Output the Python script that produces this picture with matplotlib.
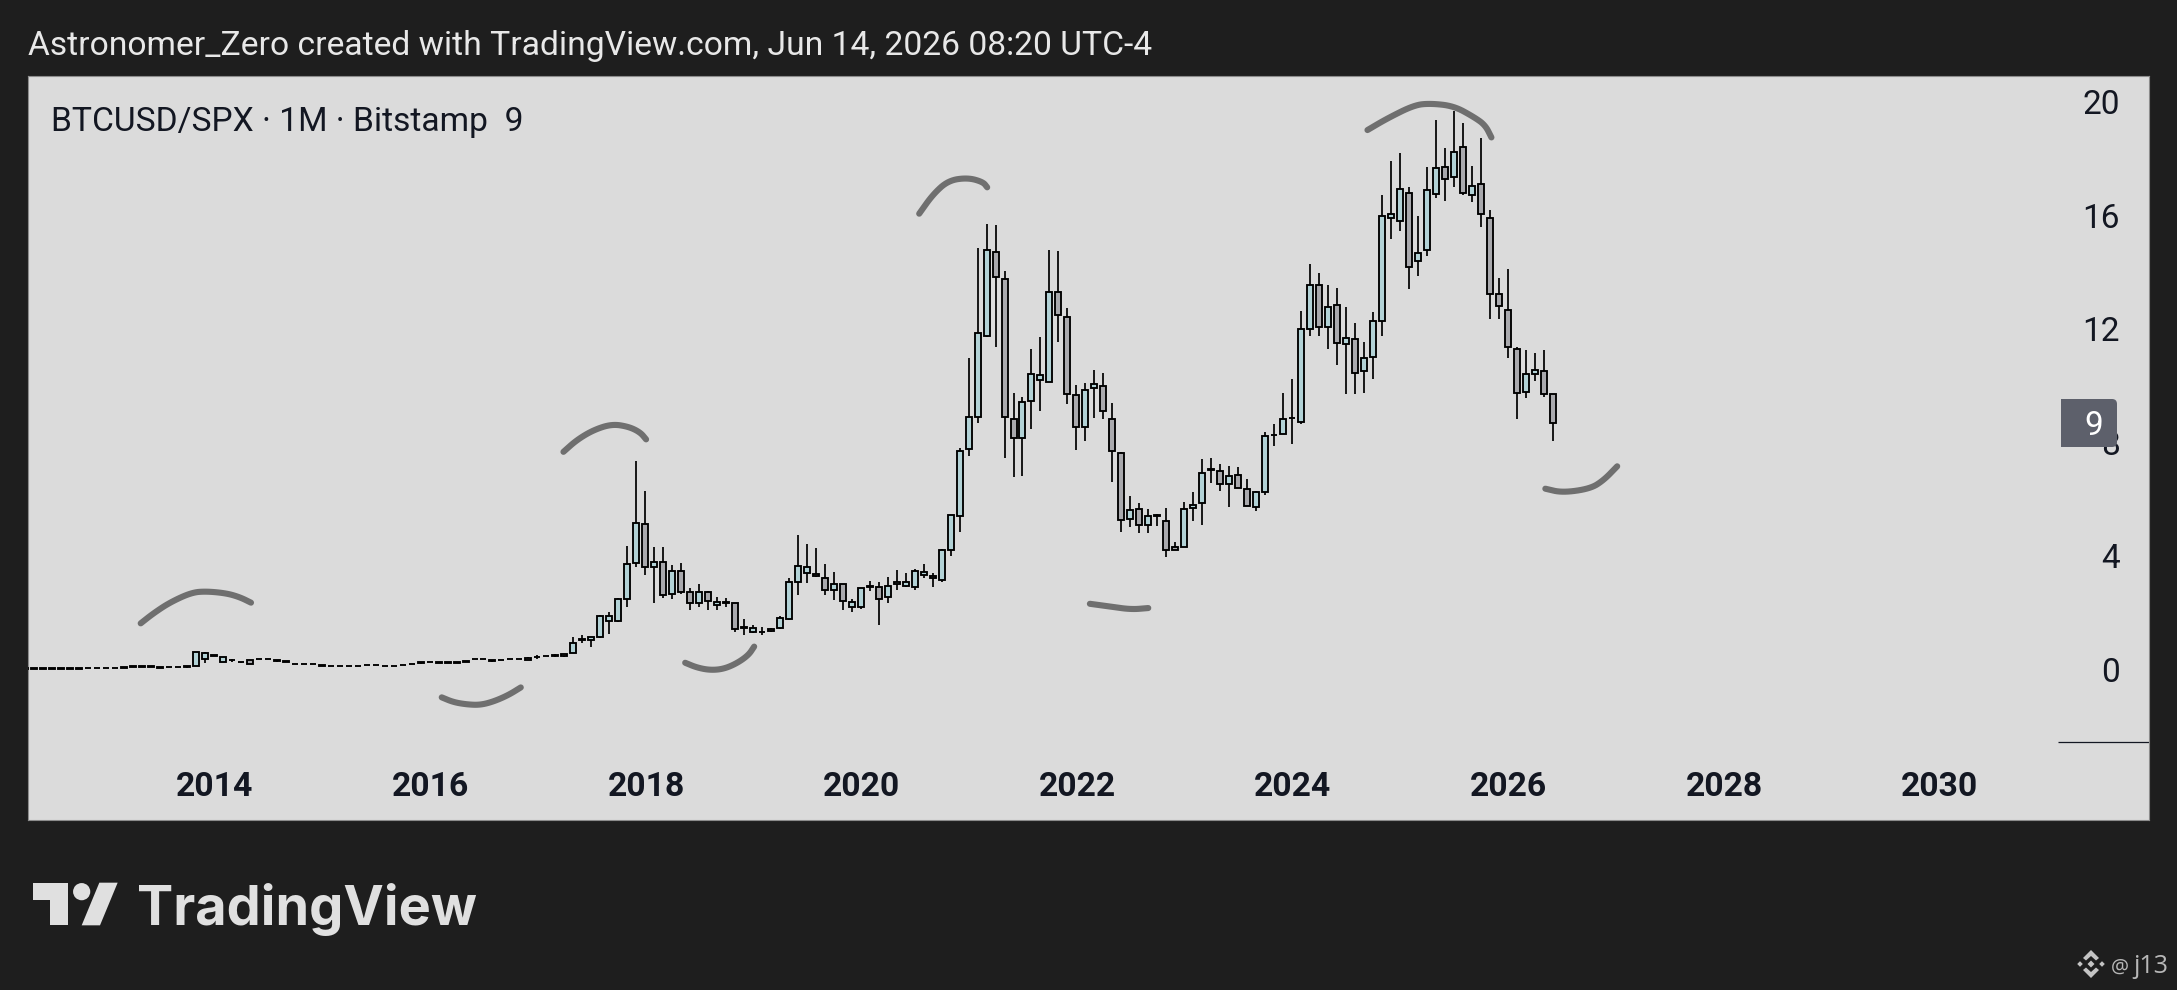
import numpy as np
import matplotlib
matplotlib.use("Agg")
import matplotlib.pyplot as plt
from matplotlib.patches import Polygon, Circle, PathPatch
from matplotlib.path import Path
from matplotlib.transforms import Affine2D, ScaledTranslation

# ---- data: monthly BTCUSD/SPX candles, Aug 2012 .. Jun 2026 ----
first_month = -21   # months relative to Jan 2014
opens = [.01,.01,.01,.01,.01,.01,.01,.02,.02,.02,
 .02,.05,.08,.08,.08,.05,.07,.07,.08,.11,
 .35,.49,.26,.31,.25,.31,.34,.34,.29,.26,
 .18,.18,.18,.12,.11,.11,.11,.11,.13,.13,
 .11,.11,.14,.18,.22,.24,.22,.22,.22,.26,
 .34,.34,.29,.32,.34,.34,.40,.42,.46,.47,
 .53,.55,1.03,1.03,1.13,1.69,1.70,2.46,3.73,5.13,
 3.61,3.79,2.63,3.47,2.73,2.34,2.72,2.26,2.33,2.32,
 1.45,1.29,1.30,1.42,1.45,1.75,3.07,3.37,3.36,3.21,
 2.79,2.99,2.20,2.20,2.89,2.89,2.55,2.99,2.93,2.90,
 3.32,3.29,3.14,4.20,5.40,7.76,8.88,11.75,14.72,13.77,
 8.83,8.14,9.44,10.18,10.14,13.31,12.40,9.68,8.52,9.90,
 9.99,8.83,7.63,5.29,5.64,5.08,5.39,5.23,4.29,4.30,
 5.68,5.87,7.02,6.98,6.53,6.84,6.35,5.73,6.26,8.25,
 8.28,8.85,8.72,11.99,13.56,12.05,12.85,11.45,11.65,10.50,
 10.99,12.29,15.91,15.80,16.80,14.38,14.77,16.74,17.71,17.34,
 18.42,16.71,17.12,15.92,13.24,12.68,11.30,9.76,10.39,10.52,9.69]
highs = [.01,.01,.01,.01,.01,.01,.01,.02,.02,.02,
 .02,.05,.09,.08,.08,.05,.07,.07,.08,.60,
 .59,.50,.43,.36,.26,.32,.34,.34,.29,.26,
 .18,.18,.18,.12,.11,.11,.11,.11,.13,.13,
 .11,.11,.14,.18,.22,.24,.22,.22,.22,.26,
 .34,.34,.29,.32,.34,.34,.41,.49,.46,.53,
 .54,1.12,1.20,1.13,1.90,2.02,2.50,4.34,7.34,6.28,
 4.32,4.32,3.66,3.73,2.85,3.00,2.74,2.55,2.49,2.34,
 1.76,1.55,1.47,1.43,1.88,3.20,4.73,4.41,4.27,3.70,
 3.41,2.99,2.47,2.87,3.10,3.08,3.23,3.49,3.37,3.52,
 3.70,3.40,4.23,5.44,7.78,10.96,14.84,15.70,15.66,14.05,
 9.72,9.61,11.29,11.72,14.78,14.76,12.72,10.02,10.08,10.55,
 10.43,9.37,7.64,6.10,5.84,5.63,5.46,5.67,4.49,5.90,
 6.23,7.40,7.43,7.22,7.17,7.11,6.69,6.29,8.37,8.64,
 9.72,10.23,12.63,14.27,13.96,13.53,13.43,12.76,12.19,11.53,
 12.58,16.71,17.92,18.19,17.01,15.98,17.70,19.37,18.37,19.68,
 19.27,17.74,18.72,16.19,13.78,14.11,11.37,11.25,11.13,11.25,9.71]
lows = [.01,.01,.01,.01,.01,.01,.01,.02,.02,.02,
 .02,.05,.06,.08,.08,.05,.07,.07,.05,.10,
 .22,.46,.25,.26,.22,.18,.34,.34,.25,.26,
 .18,.18,.18,.09,.11,.11,.11,.11,.13,.13,
 .11,.11,.14,.18,.18,.24,.22,.22,.22,.26,
 .34,.34,.25,.32,.34,.34,.30,.37,.46,.43,
 .44,.55,.90,.76,1.08,1.22,1.65,2.18,3.61,3.33,
 2.32,2.50,2.48,2.63,2.08,2.20,2.08,2.08,2.20,1.31,
 1.20,1.26,1.20,1.32,1.42,1.73,2.61,3.05,3.23,2.61,
 2.43,2.08,2.01,2.12,2.76,1.55,2.34,2.79,2.90,2.79,
 3.20,2.90,3.08,4.00,4.84,7.52,8.69,11.72,11.37,7.43,
 6.78,6.82,8.45,9.10,10.14,11.55,9.35,7.72,8.04,8.84,
 8.82,6.61,4.84,5.02,4.79,4.79,5.04,3.94,4.19,4.30,
 5.23,5.08,6.55,6.28,5.70,6.38,5.75,5.58,6.13,7.87,
 8.28,7.94,8.63,11.76,11.76,11.30,10.72,9.70,9.70,9.75,
 10.24,11.75,15.17,15.45,13.40,13.87,14.58,16.63,16.52,17.01,
 16.71,16.48,15.60,12.36,12.36,10.98,8.81,9.55,10.17,9.61,8.05]
closes = [.01,.01,.01,.01,.01,.01,.01,.02,.02,.02,
 .02,.05,.08,.08,.08,.05,.07,.07,.08,.59,
 .58,.47,.41,.30,.25,.19,.34,.34,.29,.26,
 .18,.18,.18,.12,.11,.11,.11,.11,.13,.13,
 .11,.11,.14,.18,.22,.24,.22,.22,.22,.26,
 .34,.34,.29,.32,.34,.34,.31,.44,.46,.48,
 .45,.93,1.05,1.13,1.88,1.88,2.48,3.72,5.16,3.61,
 3.79,2.60,3.47,2.73,2.32,2.73,2.41,2.38,2.35,1.42,
 1.48,1.43,1.32,1.33,1.79,3.08,3.64,3.61,3.27,2.79,
 2.99,2.39,2.38,2.87,2.92,2.46,2.93,3.08,3.06,3.47,
 3.43,3.22,4.21,5.42,7.70,8.90,11.86,14.78,13.82,8.88,
 8.15,9.43,10.42,10.38,13.31,12.47,9.70,8.52,9.85,10.04,
 9.09,7.68,5.26,5.61,5.08,5.41,5.43,4.20,4.20,5.66,
 5.78,6.93,7.05,6.53,6.81,6.38,5.75,6.26,8.23,8.27,
 8.82,8.87,12.00,13.56,12.05,12.78,11.49,11.68,10.43,10.98,
 12.29,15.99,16.05,16.94,14.18,14.69,16.91,17.68,17.28,18.25,
 16.78,17.05,16.04,13.23,12.79,11.35,9.72,10.42,10.55,9.69,8.67]
assert len(opens) == len(highs) == len(lows) == len(closes) == 171

year_ticks = [2014, 2016, 2018, 2020, 2022, 2024, 2026, 2028, 2030]
price_ticks = [0, 4, 8, 12, 16, 20]
last_price = 8.67
baseline_value = -2.575

# hand-drawn strokes: (months since Jan 2014, price)
stroke_months = [
 [-8.16,-6.76,-4.9,-2.48,-0.81,1.41,2.9,4.12],
 [25.35,26.65,28.14,29.62,31.1,32.77,34.15],
 [38.9,40.39,42.24,44.29,46.14,47.44,48.1],
 [52.45,53.75,55.23,56.72,58.2,59.5,60.13],
 [78.5,80.03,81.74,83.9,85.6,86.07],
 [97.5,99.82,102.1,104.0],
 [128.4,130.6,133.6,135.4,138.0,140.2,141.5,142.2],
 [148.2,150.1,153.2,154.7,156.2],
]
stroke_prices = [
 [1.61,1.96,2.35,2.70,2.74,2.67,2.53,2.34],
 [-1.0,-1.17,-1.25,-1.27,-1.15,-.92,-.65],
 [7.66,8.08,8.43,8.64,8.55,8.35,8.1],
 [.22,.05,-.04,0,.2,.49,.79],
 [16.06,16.74,17.23,17.33,17.18,16.99],
 [2.3,2.2,2.1,2.15],
 [19.01,19.42,19.89,19.95,19.86,19.48,19.19,18.75],
 [6.36,6.22,6.36,6.66,7.15],
]

# ---- style ----
W, H = 2177, 990
BG = "#1e1e1e"
PANEL = "#dbdbdb"
UP = "#b2d2d6"
DOWN = "#a9a9ad"
INK = "#131722"
plt.rcParams["font.family"] = ["Roboto", "DejaVu Sans"]

fig = plt.figure(figsize=(W / 100, H / 100), dpi=100, facecolor=BG)
ax = fig.add_axes([28 / W, 1 - 820 / H, 2121 / W, 744 / H], facecolor=PANEL)
PX_YEAR = 107.8
ax.set_xlim(2014 + (28 - 214) / PX_YEAR, 2014 + (2149 - 214) / PX_YEAR)
ax.set_ylim((669 - 820) / 28.35, (669 - 76) / 28.35)
for s in ax.spines.values():
    s.set_color("#8c8c8c")
    s.set_linewidth(0.8)

# candles
n = len(opens)
years = 2014 + (first_month + np.arange(n)) / 12
o, h, l, c = map(np.array, (opens, highs, lows, closes))
ax.vlines(years, l, h, color="black", lw=1.25, zorder=2)
tops = np.maximum(o, c)
bots = np.minimum(o, c)
heights = np.maximum(tops - bots, 0.012)
colors = [UP if ci >= oi else DOWN for oi, ci in zip(o, c)]
ax.bar(years, heights, bottom=bots, width=6.0 / PX_YEAR, color=colors,
       edgecolor="black", linewidth=1.35, zorder=3)


def smooth(xs, ys, rounds=3):
    pts = np.column_stack([xs, ys])
    for _ in range(rounds):
        q = 0.75 * pts[:-1] + 0.25 * pts[1:]
        r = 0.25 * pts[:-1] + 0.75 * pts[1:]
        mid = np.empty((len(q) * 2, 2))
        mid[0::2], mid[1::2] = q, r
        pts = np.vstack([pts[:1], mid, pts[-1:]])
    return pts[:, 0], pts[:, 1]


for mx, py in zip(stroke_months, stroke_prices):
    sx, sy = smooth(mx, py)
    ax.plot(2014 + sx / 12, sy, color="#6f6f6f", lw=4.4, solid_capstyle="round",
            solid_joinstyle="round", zorder=4)

# axes labels inside the panel
ax.set_xticks(year_ticks)
ax.set_xticklabels([str(y) for y in year_ticks], fontsize=24.3, fontweight="bold", color=INK)
ax.tick_params(axis="x", length=0, pad=-35.5)
for lbl in ax.get_xticklabels():
    lbl.set_transform(lbl.get_transform() + ScaledTranslation(1 / 100, 0, fig.dpi_scale_trans))
ax.yaxis.tick_right()
ax.set_yticks(price_ticks)
ax.set_yticklabels([str(p) for p in price_ticks], fontsize=24, color=INK, ha="right")
ax.tick_params(axis="y", length=0, pad=-21)

ax.plot([(2058 - 28) / 2121, 1], [(820 - 742) / 744] * 2, transform=ax.transAxes,
        color="#131722", lw=0.9, zorder=2, solid_capstyle="butt")

# overlays in pixel space (top-left origin)
px = Affine2D().scale(1, -1).translate(0, H)

# last-price tag
r = 5
tag = Path([(2061, 399), (2117 - r, 399), (2117, 399), (2117, 399 + r), (2117, 447 - r),
            (2117, 447), (2117 - r, 447), (2061, 447), (2061, 399)],
           [Path.MOVETO, Path.LINETO, Path.CURVE3, Path.CURVE3, Path.LINETO,
            Path.CURVE3, Path.CURVE3, Path.LINETO, Path.CLOSEPOLY])
fig.add_artist(PathPatch(tag, transform=px, facecolor="#5d606b", edgecolor="none", zorder=10))
fig.text(2094 / W, 1 - 435 / H, f"{last_price:.0f}", color="white", fontsize=24,
         ha="center", va="baseline", zorder=11)

fig.text(28 / W, 1 - 45.5 / H, "Astronomer_Zero created with TradingView.com, Jun 14, 2026 08:20 UTC-4",
         color="#e8e8e8", fontsize=24.2, va="center", ha="left")
fig.text(51 / W, 1 - 122 / H, "BTCUSD/SPX · 1M · Bitstamp  9", color=INK, fontsize=24.2,
         va="center", ha="left", zorder=5)

# logo
LOGO = "#e0e0e0"
lx = lambda z: z / 3
ly = lambda z: 840 + z / 3
fig.add_artist(Polygon([(lx(a), ly(b)) for a, b in
                        [(100, 128), (203, 128), (203, 256), (151, 256), (151, 180), (100, 180)]],
                       closed=True, transform=px, facecolor=LOGO, edgecolor="none"))
fig.add_artist(Polygon([(lx(a), ly(b)) for a, b in
                        [(298, 128), (353, 128), (300, 256), (245, 256)]],
                       closed=True, transform=px, facecolor=LOGO, edgecolor="none"))
fig.add_artist(Circle((lx(245), ly(155)), 8.6, transform=px, facecolor=LOGO, edgecolor="none"))
fig.text(137 / W, 1 - 925 / H, "TradingView", color=LOGO, fontsize=39, fontfamily="Inter",
         fontweight="bold", va="baseline", ha="left")

# watermark
WM = "#c4c4c4"
cx, cy = 2091, 964
def diamond(x, y, s):
    return Polygon([(x, y - s), (x + s, y), (x, y + s), (x - s, y)], closed=True,
                   transform=px, facecolor=WM, edgecolor="none")
for dx, dy, s in [(0, 0, 3.5), (-11, 0, 2.8), (11, 0, 2.8)]:
    fig.add_artist(diamond(cx + dx, cy + dy, s))
for sgn in (-1, 1):
    fig.add_artist(Polygon([(cx, cy + sgn * 14), (cx + 8, cy + sgn * 6), (cx + 5, cy + sgn * 3.5),
                            (cx, cy + sgn * 8), (cx - 5, cy + sgn * 3.5), (cx - 8, cy + sgn * 6)],
                           closed=True, transform=px, facecolor=WM, edgecolor="none"))
fig.text(2111 / W, 1 - 973 / H, "@", color="#b8b8b8", fontsize=14.5, fontfamily="Open Sans",
         va="baseline", ha="left")
fig.text(2168 / W, 1 - 973 / H, "j13", color="#b8b8b8", fontsize=18, fontfamily="Open Sans",
         va="baseline", ha="right")

fig.savefig("out.png", dpi=100, facecolor=BG)
